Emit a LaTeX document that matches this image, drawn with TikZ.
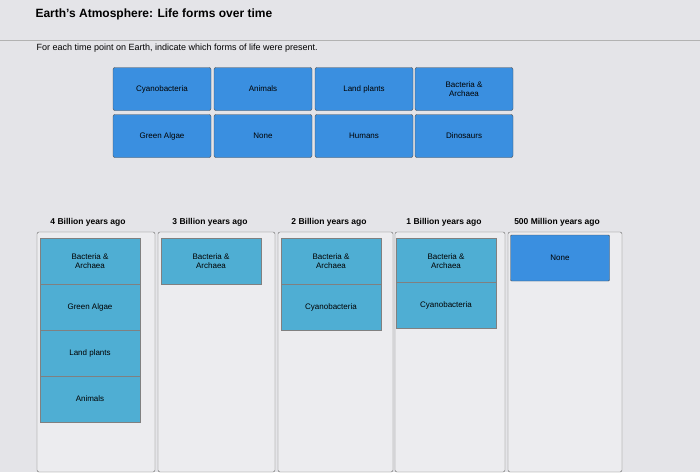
\documentclass[tikz,border=0pt]{standalone}
\usepackage{fontspec}
\setmainfont{Liberation Sans}
\definecolor{btnc}{HTML}{3A8FE0}
\definecolor{cardc}{HTML}{4FAED3}
\definecolor{bgc}{HTML}{E4E4E8}
\begin{document}
\begin{tikzpicture}[x=1pt,y=-1pt,
  btn/.style={draw=black!70,fill=btnc,rounded corners=2pt,minimum width=98pt,minimum height=43pt,font=\fontsize{8}{9}\selectfont,align=center,inner sep=1pt},
  card/.style={draw=black!50,fill=cardc,minimum width=100pt,minimum height=46pt,font=\fontsize{8}{9}\selectfont,align=center,inner sep=1pt},
  col/.style={draw=black!60,fill=bgc!70!white,rounded corners=2pt},
  hdr/.style={font=\bfseries\fontsize{8.5}{10}\selectfont}]
\useasboundingbox (0,0) rectangle (700,472);
\fill[bgc] (0,0) rectangle (700,472);
\node[anchor=west,font=\bfseries\fontsize{12}{14}\selectfont] (title) at (32,14) {Earth's Atmosphere: Life forms over time};
\draw[gray!60] (0,40) -- (700,40);
\node[anchor=west,font=\fontsize{9}{10}\selectfont] (sub) at (33,48) {For each time point on Earth, indicate which forms of life were present.};
\node[btn] (b1) at (162,89) {Cyanobacteria};
\node[btn] (b2) at (263,89) {Animals};
\node[btn] (b3) at (364,89) {Land plants};
\node[btn] (b4) at (464,89) {Bacteria \&\\Archaea};
\node[btn] (b5) at (162,136) {Green Algae};
\node[btn] (b6) at (263,136) {None};
\node[btn] (b7) at (364,136) {Humans};
\node[btn] (b8) at (464,136) {Dinosaurs};
\foreach \a/\b in {37/155,158/275,278/393,395/505,508/622}{
  \draw[col] (\a,232) -- (\a,472) -- (\b,472) -- (\b,232) -- cycle;}
\node[hdr] (h1) at (88,222) {4 Billion years ago};
\node[hdr] (h2) at (210,222) {3 Billion years ago};
\node[hdr] (h3) at (329,222) {2 Billion years ago};
\node[hdr] (h4) at (444,222) {1 Billion years ago};
\node[hdr] (h5) at (557,222) {500 Million years ago};
\node[card] (c11) at (90,261) {Bacteria \&\\Archaea};
\node[card] (c12) at (90,307) {Green Algae};
\node[card] (c13) at (90,353) {Land plants};
\node[card] (c14) at (90,399) {Animals};
\node[card] (c21) at (211,261) {Bacteria \&\\Archaea};
\node[card] (c31) at (331,261) {Bacteria \&\\Archaea};
\node[card] (c32) at (331,307) {Cyanobacteria};
\node[card] (c41) at (446,261) {Bacteria \&\\Archaea};
\node[card] (c42) at (446,305) {Cyanobacteria};
\node[btn,minimum width=99pt,minimum height=46pt,rounded corners=1pt] (c51) at (560,258) {None};
\end{tikzpicture}
\end{document}
